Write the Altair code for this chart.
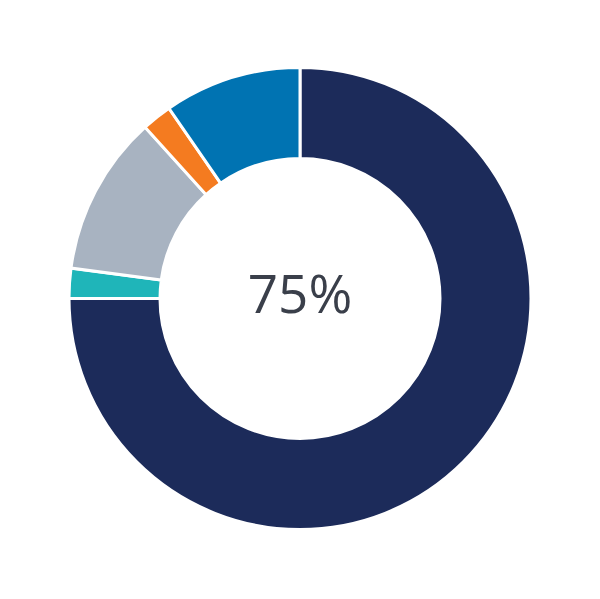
import altair as alt
import pandas as pd

categories = ["A", "B", "C", "D", "E"]
values = [75, 2.1, 11.2, 2.1, 9.6]
colors = ["#1c2b5a", "#1fb5b9", "#a8b3c1", "#f47b20", "#0073b2"]
center_label = "75%"

df = pd.DataFrame({"cat": categories, "value": values, "order": list(range(len(categories)))})

arcs = alt.Chart(df).mark_arc(outerRadius=231, innerRadius=140, stroke="white", strokeWidth=3).encode(
    theta=alt.Theta("value:Q", stack=True),
    color=alt.Color("cat:N", scale=alt.Scale(domain=categories, range=colors), legend=None),
    order=alt.Order("order:Q"),
)

text = alt.Chart(pd.DataFrame({"t": [center_label]})).mark_text(
    font="Open Sans", fontSize=53, color="#3a3f4a", baseline="middle", align="center", dy=-2
).encode(text="t:N")

chart = alt.layer(arcs, text).properties(width=584, height=581, padding=0).configure_view(stroke=None)

chart.save("out.html", embed_options={"renderer": "svg", "actions": False})
